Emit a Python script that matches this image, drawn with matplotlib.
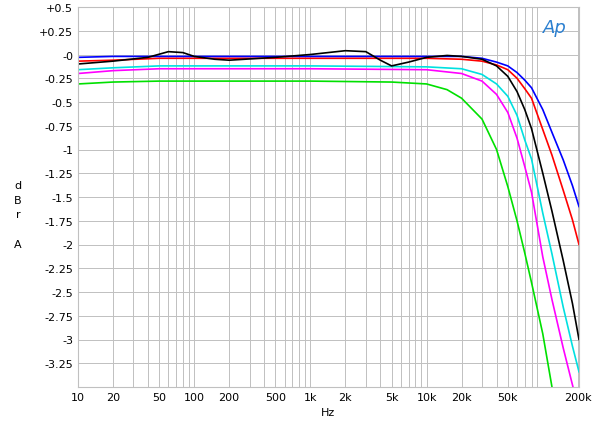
import numpy as np
import matplotlib.pyplot as plt
from matplotlib.ticker import FixedLocator, NullFormatter

# frequency response of each trace, dBr
f_roll = [20000, 30000, 40000, 50000, 60000, 70000, 80000, 100000, 120000, 150000, 180000, 205000]

blue_f = [10, 20, 50, 1000, 10000] + f_roll
blue = [-0.03, -0.02, -0.02, -0.02, -0.02,
        -0.02, -0.04, -0.08, -0.12, -0.19, -0.27, -0.35, -0.58, -0.82, -1.11, -1.38, -1.6]
red_f = [10, 20, 50, 1000, 10000] + f_roll
red = [-0.07, -0.06, -0.04, -0.04, -0.04,
       -0.05, -0.07, -0.11, -0.16, -0.25, -0.36, -0.46, -0.79, -1.06, -1.43, -1.74, -2.0]
black_f = [10, 20, 40, 60, 80, 100, 150, 200, 500, 1000, 2000, 3000, 4000, 5000, 7000,
           10000, 15000, 20000, 30000, 40000, 50000, 60000, 70000, 80000, 100000, 120000,
           150000, 180000, 205000]
black = [-0.1, -0.07, -0.03, 0.03, 0.02, -0.02, -0.05, -0.06, -0.03, 0.0, 0.04, 0.03, -0.06,
         -0.12, -0.08, -0.03, -0.01, -0.02, -0.05, -0.12, -0.23, -0.39, -0.58, -0.78, -1.25,
         -1.65, -2.17, -2.62, -3.0]
cyan_f = [10, 20, 50, 1000, 10000] + f_roll
cyan = [-0.16, -0.14, -0.12, -0.12, -0.13,
        -0.15, -0.21, -0.31, -0.44, -0.64, -0.9, -1.1, -1.67, -2.1, -2.66, -3.07, -3.34]
mag_f = [10, 20, 50, 1000, 10000, 20000, 30000, 40000, 50000, 60000, 70000, 80000,
         100000, 120000, 150000, 182000]
magenta = [-0.2, -0.17, -0.15, -0.15, -0.16, -0.2, -0.28, -0.42, -0.61, -0.88, -1.18, -1.45,
           -2.13, -2.58, -3.09, -3.5]
green_f = [10, 20, 50, 1000, 5000, 10000, 15000, 20000, 30000, 40000, 50000, 60000,
           70000, 80000, 100000, 120000]
green = [-0.31, -0.29, -0.28, -0.28, -0.29, -0.31, -0.37, -0.46, -0.68, -1.0, -1.39, -1.75,
         -2.09, -2.4, -2.94, -3.5]

traces = [(green_f, green, '#00e000'), (mag_f, magenta, '#ff00ff'), (cyan_f, cyan, '#00e0e0'),
          (red_f, red, '#ff0000'), (blue_f, blue, '#0000ff'), (black_f, black, '#000000')]

xticks = [10, 20, 50, 100, 200, 500, 1000, 2000, 5000, 10000, 20000, 50000, 200000]
xlabels = ['10', '20', '50', '100', '200', '500', '1k', '2k', '5k', '10k', '20k', '50k', '200k']
yticks = np.arange(0.5, -3.3, -0.25)
ylabels = ['+0.5', '+0.25', '-0', '-0.25', '-0.5', '-0.75', '-1', '-1.25', '-1.5', '-1.75',
           '-2', '-2.25', '-2.5', '-2.75', '-3', '-3.25']

fig = plt.figure(figsize=(6, 4.31), dpi=100)
ax = fig.add_axes([78/600, 43/431, 501/600, 380/431])
for fx, fy, c in traces:
    ax.plot(fx, fy, color=c, lw=1.2)

ax.set_xscale('log')
ax.set_xlim(10, 205000)
ax.set_ylim(-3.5, 0.5)
ax.set_xticks(xticks)
ax.set_xticklabels(xlabels)
ax.xaxis.set_minor_locator(FixedLocator([m * 10**d for d in range(1, 6) for m in range(2, 10)]))
ax.xaxis.set_minor_formatter(NullFormatter())
ax.set_yticks(yticks)
ax.set_yticklabels(ylabels)
ax.grid(True, which='both', color='#c0c0c0', lw=0.7)
ax.tick_params(which='both', length=0, labelsize=8)
for s in ax.spines.values():
    s.set_color('#c0c0c0')
ax.set_xlabel('Hz', fontsize=8)
fig.text(0.03, 0.5, 'd\nB\nr\n\nA', fontsize=8, ha='center', va='center', linespacing=1.6)
ax.text(0.975, 0.97, 'Ap', transform=ax.transAxes, color='#2a7fd0', fontsize=13,
        style='italic', ha='right', va='top')

fig.savefig('out.png')
